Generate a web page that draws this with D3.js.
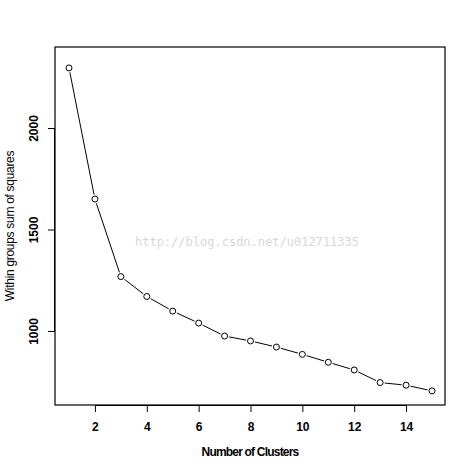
<!DOCTYPE html>
<html><head><meta charset="utf-8">
<script src="https://cdn.jsdelivr.net/npm/d3@7"></script>
<style>body{margin:0;background:#fff}</style></head>
<body><svg id="c" width="474" height="473"></svg>
<script>
var clusters = [1,2,3,4,5,6,7,8,9,10,11,12,13,14,15];
var wss = [2296,1650,1268,1170,1098,1039,975,951,921,885,846,808,746,733,705];
var xTicks = [2,4,6,8,10,12,14];
var yTicks = [1000,1500,2000];

var svg = d3.select("#c");
var boxL = 55, boxR = 445, boxT = 47, boxB = 405;
var x = d3.scaleLinear().domain([1,15]).range([69,432]);
var y = d3.scaleLinear().domain([1000,2000]).range([331,128]);
var font = "Liberation Sans, Arial, sans-serif";

svg.append("rect").attr("x",boxL).attr("y",boxT).attr("width",boxR-boxL).attr("height",boxB-boxT)
  .attr("fill","none").attr("stroke","#000").attr("stroke-width",1.2);

var xa = svg.append("g").attr("transform","translate(0,"+boxB+")")
  .call(d3.axisBottom(x).tickValues(xTicks).tickSize(7).tickPadding(10).tickFormat(d3.format("d")));
xa.select(".domain").attr("d","M"+x(2)+",0.5H"+x(14));
var ya = svg.append("g").attr("transform","translate("+boxL+",0)")
  .call(d3.axisLeft(y).tickValues(yTicks).tickSize(7).tickPadding(6).tickFormat(d3.format("d")));
ya.select(".domain").attr("d","M-0.5,"+y(1000)+"V"+y(2000));
ya.selectAll(".tick text").attr("x",0).attr("y",0).attr("dy","0")
  .attr("text-anchor","middle").attr("transform","translate(-17,0) rotate(-90)");
svg.selectAll(".tick text").attr("font-family",font).attr("font-size",12).attr("font-weight","bold").attr("fill","#000");

// lines with gaps around points (type = "b")
var r = 3, gap = 4.5;
for (var i = 0; i < clusters.length-1; i++) {
  var x1 = x(clusters[i]), y1 = y(wss[i]), x2 = x(clusters[i+1]), y2 = y(wss[i+1]);
  var dx = x2-x1, dy = y2-y1, L = Math.sqrt(dx*dx+dy*dy);
  svg.append("line").attr("x1",x1+dx/L*gap).attr("y1",y1+dy/L*gap)
    .attr("x2",x2-dx/L*gap).attr("y2",y2-dy/L*gap).attr("stroke","#000").attr("stroke-width",1);
}
svg.selectAll("circle").data(clusters).enter().append("circle")
  .attr("cx",function(d){return x(d);}).attr("cy",function(d,i){return y(wss[i]);})
  .attr("r",r).attr("fill","none").attr("stroke","#000").attr("stroke-width",1);

svg.append("text").attr("x",(boxL+boxR)/2).attr("y",456).attr("text-anchor","middle")
  .attr("font-family",font).attr("font-size",12).attr("font-weight","bold").attr("letter-spacing",-0.8)
  .text("Number of Clusters");
svg.append("text").attr("transform","translate(14,226) rotate(-90)").attr("text-anchor","middle")
  .attr("font-family",font).attr("font-size",12).attr("letter-spacing",-0.3)
  .text("Within groups sum of squares");
svg.append("text").attr("x",135).attr("y",246).attr("font-family","DejaVu Sans Mono, monospace")
  .attr("font-size",12).attr("fill","#d8d8d8").text("http://blog.csdn.net/u012711335");
</script></body></html>
